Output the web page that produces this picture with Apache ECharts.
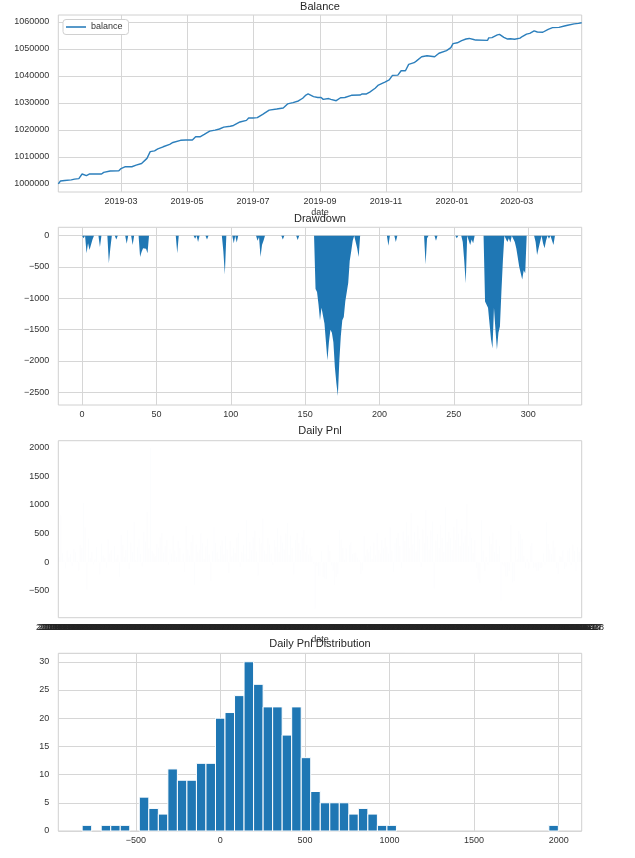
<!DOCTYPE html>
<html><head><meta charset="utf-8">
<script src="https://cdn.jsdelivr.net/npm/echarts@6/dist/echarts.min.js"></script>
<style>html,body{margin:0;padding:0;background:#fff}#c{width:635px;height:858px}</style>
</head><body><div id="c"></div>
<script>
// ---------- Balance ----------
const balanceDates = ['2019-01-02','2019-01-04','2019-01-08','2019-01-14','2019-01-17','2019-01-21','2019-01-24','2019-01-28','2019-01-31','2019-02-11','2019-02-13','2019-02-19','2019-02-27','2019-03-01','2019-03-05','2019-03-11','2019-03-15','2019-03-20','2019-03-25','2019-03-26','2019-03-28','2019-04-01','2019-04-04','2019-04-09','2019-04-15','2019-04-18','2019-04-25','2019-04-30','2019-05-06','2019-05-09','2019-05-13','2019-05-17','2019-05-22','2019-05-27','2019-05-28','2019-05-31','2019-06-04','2019-06-10','2019-06-13','2019-06-19','2019-06-25','2019-06-27','2019-07-01','2019-07-05','2019-07-10','2019-07-16','2019-07-23','2019-07-29','2019-08-02','2019-08-07','2019-08-12','2019-08-16','2019-08-19','2019-08-21','2019-08-26','2019-08-30','2019-09-02','2019-09-04','2019-09-09','2019-09-11','2019-09-16','2019-09-20','2019-09-24','2019-09-30','2019-10-08','2019-10-10','2019-10-14','2019-10-17','2019-10-22','2019-10-25','2019-10-31','2019-11-04','2019-11-07','2019-11-12','2019-11-15','2019-11-19','2019-11-22','2019-11-27','2019-11-29','2019-12-04','2019-12-09','2019-12-16','2019-12-20','2019-12-27','2019-12-31','2020-01-02','2020-01-06','2020-01-10','2020-01-14','2020-01-17','2020-01-21','2020-01-23','2020-02-03','2020-02-04','2020-02-07','2020-02-12','2020-02-14','2020-02-18','2020-02-21','2020-02-24','2020-02-28','2020-03-04','2020-03-06','2020-03-10','2020-03-13','2020-03-17','2020-03-20','2020-03-25','2020-03-30','2020-04-03','2020-04-09','2020-04-14','2020-04-17','2020-04-23','2020-04-27','2020-04-30'];
const balanceValues = [999950,1001000,1001200,1001400,1001700,1001900,1003600,1003000,1003600,1003600,1004200,1004700,1004800,1005600,1006300,1006300,1006900,1007500,1009400,1009800,1011900,1012200,1012900,1013700,1014600,1015300,1016100,1016200,1016200,1017400,1017400,1018300,1019500,1019900,1019300,1020300,1021000,1021300,1021600,1022900,1023500,1024400,1024400,1024500,1025700,1027300,1027700,1028100,1029600,1030100,1030700,1031700,1032900,1033300,1032300,1032000,1032000,1031300,1031600,1031300,1030800,1031900,1032000,1032800,1032900,1033300,1033300,1034000,1035400,1036600,1037700,1038500,1040200,1040300,1041900,1041900,1044300,1044900,1045500,1047100,1047500,1047100,1048400,1049400,1050500,1052000,1052300,1053100,1053700,1053900,1053500,1053300,1053200,1054100,1054200,1055200,1055400,1054300,1053700,1053800,1053600,1054000,1054600,1055500,1055800,1056700,1056300,1056200,1057300,1057900,1058000,1058500,1058800,1059300,1059500,1059700];

// ---------- Drawdown (index, value) ----------
const ddIndex = [0,1,2,3,4,5,6,7,8, 11,12,13, 17,18,19,20, 22,23,24, 29,30,31, 33,34,35, 38,39,40,41,42,43,44,45, 63,64,65, 75,76,77,78,79, 83,84,85, 94,95,96,97, 101,102,103,104,105, 110,111,112, 117,118,119,120,121,122,123, 134,135,136, 144,145,146,
 156,157,158,159,160,161,162,163,164,165,166,167,168,169,170,171,172,173,174,175,176,177,178,179,180,181,182,183, 185,186,187, 197,198,199, 205,206,207, 210,211,212, 226,227,228, 230,231,232,233, 237,238,239, 244,245,246, 251,252,253, 255,256,257,258,259, 260,261,262,263,264,
 270,271,272,273,274,275,276,277,278,279,280,281,282,283,284, 285,286,287,288,289, 290,291,292,293,294,295,296,297,298,299, 304,305,306,307,308,309,310,311,312,313,314,315,316,317,318,320];
const ddValues = [0,-40,0,-280,-120,-230,-250,-60,0, 0,-180,0, 0,-440,-200,0, 0,-60,0, 0,-130,0, 0,-150,0, 0,-340,-260,-200,-190,-210,-280,0, 0,-280,0, 0,-50,0,-100,0, 0,-60,0, 0,-250,-620,0, 0,-120,0,-110,0, 0,-30,0, 0,-80,-20,-340,-150,-80,0, 0,-60,0, 0,-70,0,
 0,-850,-900,-1100,-1350,-1150,-1150,-1400,-1700,-1990,-1700,-1500,-1550,-1700,-2100,-2350,-2560,-2000,-1600,-1350,-1300,-1050,-1050,-750,-400,-250,-80,0, -200,-340,0, 0,-20,0, 0,-160,0, 0,-100,0, 0,-25,0, 0,-460,-40,0, 0,-80,0, 0,-20,0, 0,-40,0, 0,-100,-400,-760,0, 0,-150,-60,-120,0,
 0,-1050,-1080,-1150,-1400,-1650,-1800,-1150,-1500,-1820,-1550,-1450,-900,-400,0, 0,-100,-40,-110,0, 0,-100,-200,-350,-500,-600,-700,-550,-600,0, 0,-100,-310,-200,-100,0,-120,-200,-80,0,-50,0,0,-150,0,0];

// ---------- Daily PnL (estimated) ----------
const pnlValues = [
 95,820,160,45,-110,205,88,142,-64,236,178,26,-148,305,252,1040,612,-480,415,78,
 186,-36,52,268,14,-212,330,118,74,-96,402,156,212,-18,288,66,134,-254,476,302,
 92,220,560,-118,346,184,708,38,262,410,146,-72,532,366,880,244,1997,198,156,104,
 322,260,436,518,174,286,392,-42,238,152,468,206,96,372,248,12,154,-166,640,224,
 118,356,480,-390,312,174,226,508,336,62,282,416,138,-324,192,618,340,176,58,296,
 384,142,462,228,-188,372,104,250,166,438,512,-80,176,298,146,734,62,358,214,438,
 560,188,-232,420,334,766,206,144,426,312,156,-46,388,272,596,184,470,344,230,502,
 686,128,466,254,-214,390,514,340,212,438,562,176,302,136,248,104,-26,-810,-64,-236,
 -240,196,-262,-288,-296,306,204,-58,-146,-402,-254,-208,566,400,250,52,246,4,302,350,
 148,168,172,86,40,-202,-140,462,118,230,176,282,60,348,126,516,220,154,388,246,
 436,278,154,612,208,-164,340,426,518,290,-98,536,372,702,468,244,860,316,526,188,
 642,404,-82,578,336,914,462,226,554,712,-458,380,498,254,646,428,180,960,356,530,
 430,220,620,390,762,504,286,580,348,470,1018,280,526,430,162,388,-100,-300,-360,738,
 206,-152,96,-44,456,318,522,184,398,148,290,-680,-36,-74,-252,-248,-154,652,-354,-326,
 272,54,548,498,406,112,-98,64,-112,286,342,-104,-96,-152,-146,-104,-96,154,-52,702,
 318,224,146,382,264,-102,-208,110,96,212,-122,-78,206,250,-48,312,202,-148,266,184,
 242];
const holidays = ['2019-01-01','2019-02-04','2019-02-05','2019-02-06','2019-02-07','2019-02-08','2019-04-05','2019-05-01','2019-05-02','2019-05-03','2019-06-07','2019-09-13','2019-10-01','2019-10-02','2019-10-03','2019-10-04','2019-10-07','2020-01-01','2020-01-24','2020-01-27','2020-01-28','2020-01-29','2020-01-30','2020-01-31','2020-04-06'];

// ---------- Histogram (bin counts) ----------
const histBinStart = -817;
const histBinWidth = 56.3;
const histCounts = [1,0,1,1,1,0,6,4,3,11,9,9,12,12,20,21,24,30,26,22,22,17,22,13,7,5,5,5,3,4,3,1,1,0,0,0,0,0,0,0,0,0,0,0,0,0,0,0,0,1];

// ---------- Tick labels ----------
const balanceXTicks = ['2019-03-01','2019-05-01','2019-07-01','2019-09-01','2019-11-01','2020-01-01','2020-03-01'];
const balanceXRange = ['2019-01-02','2020-04-30'];
const balanceYTicks = [1000000,1010000,1020000,1030000,1040000,1050000,1060000];
const ddXTicks = [0,50,100,150,200,250,300];
const ddYTicks = [-2500,-2000,-1500,-1000,-500,0];
const pnlYTicks = [-500,0,500,1000,1500,2000];
const histXTicks = [-500,0,500,1000,1500,2000];

const ts = s => Date.UTC(+s.slice(0, 4), +s.slice(5, 7) - 1, +s.slice(8, 10));
function buildDays(start, n) {
  const out = []; const d = new Date(start + 'T00:00:00Z');
  while (out.length < n) {
    const dow = d.getUTCDay(); const s = d.toISOString().slice(0, 10);
    if (dow !== 0 && dow !== 6 && holidays.indexOf(s) < 0) out.push(s);
    d.setUTCDate(d.getUTCDate() + 1);
  }
  return out;
}
const pnlDates = buildDays('2019-01-02', pnlValues.length);

const FONT = '"Liberation Sans", Arial, sans-serif';
const TXT = '#333333';
const GRIDC = '#d6d6d6';
const lab = (extra) => Object.assign({fontFamily: FONT, fontSize: 9, color: TXT}, extra || {});
const minus = v => String(v).replace('-', '\u2212');
const fmtMonth = v => { const d = new Date(v); return d.getUTCFullYear() + '-' + String(d.getUTCMonth() + 1).padStart(2, '0'); };
const split = {show: true, lineStyle: {color: GRIDC, width: 1}};
const titleStyle = {fontFamily: FONT, fontSize: 11, fontWeight: 'normal', color: '#262626', lineHeight: 13};

const L = 58.3, W = 523.4;
const grids = [
  {left: L, width: W, top: 15, height: 177},
  {left: L, width: W, top: 227.3, height: 177.7},
  {left: L, width: W, top: 440.7, height: 177},
  {left: L, width: W, top: 653.3, height: 177.7}
].map(g => Object.assign(g, {show: true, borderColor: '#d0d0d0', borderWidth: 1, backgroundColor: '#fff', containLabel: false}));

const histData = histCounts.map((c, k) => [histBinStart + k * histBinWidth, histBinStart + (k + 1) * histBinWidth, c]).filter(d => d[2] > 0);

const LINEC = '#2c7fbc';
const chart = echarts.init(document.getElementById('c'), null, {renderer: 'canvas'});
chart.setOption({
  animation: false,
  backgroundColor: '#fff',
  title: [
    {text: 'Balance', left: L + W / 2, top: 0, textAlign: 'center', padding: 0, textStyle: titleStyle},
    {text: 'Drawdown', left: L + W / 2, top: 212.5, textAlign: 'center', padding: 0, textStyle: titleStyle},
    {text: 'Daily Pnl', left: L + W / 2, top: 424.5, textAlign: 'center', padding: 0, textStyle: titleStyle},
    {text: 'Daily Pnl Distribution', left: L + W / 2, top: 637.5, textAlign: 'center', padding: 0, textStyle: titleStyle}
  ],
  legend: {
    data: [{name: 'balance', icon: 'rect', itemStyle: {color: LINEC}}],
    left: 63, top: 19.5, padding: [2, 6, 2, 3], itemWidth: 20, itemHeight: 1.6, itemGap: 5,
    backgroundColor: '#fff', borderColor: '#d0d0d0', borderWidth: 1, borderRadius: 3,
    textStyle: {fontFamily: FONT, fontSize: 9, color: TXT, lineHeight: 11}
  },
  grid: grids,
  xAxis: [
    {gridIndex: 0, type: 'value', min: ts(balanceXRange[0]), max: ts(balanceXRange[1]),
     axisLine: {show: false}, axisTick: {show: false, customValues: balanceXTicks.map(ts)},
     axisLabel: lab({margin: 5, customValues: balanceXTicks.map(ts), formatter: fmtMonth}),
     splitLine: split, name: 'date', nameLocation: 'middle', nameGap: 16.5, nameTextStyle: lab()},
    {gridIndex: 1, type: 'value', min: -16, max: 336,
     axisLine: {show: false}, axisTick: {show: false, customValues: ddXTicks},
     axisLabel: lab({margin: 5, customValues: ddXTicks, formatter: minus}), splitLine: split},
    {gridIndex: 2, type: 'category', data: pnlDates, boundaryGap: true,
     axisLine: {show: false}, axisTick: {show: false},
     axisLabel: lab({margin: 5, interval: 0, color: '#262626'}), splitLine: {show: false},
     name: 'date', nameLocation: 'middle', nameGap: 17, nameTextStyle: lab()},
    {gridIndex: 3, type: 'value', min: -958, max: 2136,
     axisLine: {show: false}, axisTick: {show: false, customValues: histXTicks},
     axisLabel: lab({margin: 5, customValues: histXTicks, formatter: minus}), splitLine: split}
  ],
  yAxis: [
    {gridIndex: 0, type: 'value', min: 996920, max: 1062600,
     axisLine: {show: false}, axisTick: {show: false, customValues: balanceYTicks},
     axisLabel: lab({margin: 9, customValues: balanceYTicks, formatter: v => String(v)}), splitLine: split},
    {gridIndex: 1, type: 'value', min: -2703, max: 134,
     axisLine: {show: false}, axisTick: {show: false, customValues: ddYTicks},
     axisLabel: lab({margin: 9, customValues: ddYTicks, formatter: minus}), splitLine: split},
    {gridIndex: 2, type: 'value', min: -966, max: 2122,
     axisLine: {show: false}, axisTick: {show: false, customValues: pnlYTicks},
     axisLabel: lab({margin: 9, customValues: pnlYTicks, formatter: minus}), splitLine: {show: false}},
    {gridIndex: 3, type: 'value', min: 0, max: 31.5, interval: 5,
     axisLine: {show: false}, axisTick: {show: false},
     axisLabel: lab({margin: 9, showMaxLabel: false}), splitLine: split}
  ],
  series: [
    {name: 'balance', type: 'line', xAxisIndex: 0, yAxisIndex: 0, symbol: 'none', showSymbol: false,
     data: balanceDates.map((d, i) => [ts(d), balanceValues[i]]),
     lineStyle: {color: LINEC, width: 1.4}, itemStyle: {color: LINEC}},
    {name: 'drawdown', type: 'line', xAxisIndex: 1, yAxisIndex: 1, symbol: 'none', showSymbol: false,
     data: ddIndex.map((x, i) => [x, ddValues[i]]),
     lineStyle: {width: 0}, areaStyle: {color: '#1f77b4', opacity: 1}},
    {name: 'pnl', type: 'bar', xAxisIndex: 2, yAxisIndex: 2, data: pnlValues, barCategoryGap: '20%',
     itemStyle: {color: 'rgba(31,119,180,0.012)'}},
    {name: 'hist', type: 'custom', xAxisIndex: 3, yAxisIndex: 3, data: histData, encode: {x: [0, 1], y: 2},
     renderItem: function (params, api) {
       const p0 = api.coord([api.value(0), api.value(2)]);
       const p1 = api.coord([api.value(1), 0]);
       return {type: 'rect', shape: {x: p0[0], y: p0[1], width: p1[0] - p0[0], height: p1[1] - p0[1]},
               style: {fill: '#1f77b4', stroke: '#ffffff', lineWidth: 1}};
     }}
  ]
});
</script></body></html>
